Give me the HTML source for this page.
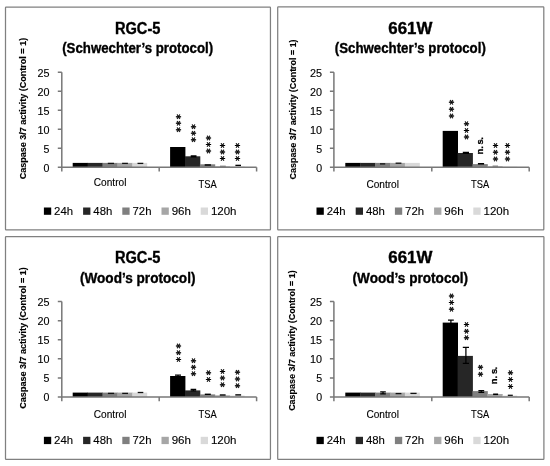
<!DOCTYPE html>
<html lang="en">
<head>
<meta charset="utf-8">
<title>Caspase 3/7 activity</title>
<style>
html,body{margin:0;padding:0;background:#fff;}
svg{display:block;font-family:"Liberation Sans", Arial, sans-serif;}
</style>
</head>
<body>
<svg width="550" height="466" viewBox="0 0 550 466">
<rect width="550" height="466" fill="#ffffff"/>
<rect x="5.5" y="7.1" width="264.95" height="222.70" rx="0.6" fill="#fff" stroke="#808080" stroke-width="1.25"/>
<text x="137.7" y="33.8" font-size="15.6" text-anchor="middle" fill="#000" font-weight="bold" textLength="45.5" lengthAdjust="spacingAndGlyphs" stroke="#000" stroke-width="0.35">RGC-5</text>
<text x="137.7" y="53.4" font-size="14.2" text-anchor="middle" fill="#000" font-weight="bold" textLength="151" lengthAdjust="spacingAndGlyphs" stroke="#000" stroke-width="0.35">(Schwechter’s protocol)</text>
<text x="26.2" y="108.6" font-size="9.5" text-anchor="middle" fill="#000" font-weight="bold" textLength="141.5" lengthAdjust="spacingAndGlyphs" transform="rotate(-90 26.2 108.6)" stroke="#000" stroke-width="0.15">Caspase 3/7 activity (Control = 1)</text>
<rect x="72.70" y="162.90" width="15.3" height="4.30" fill="#000000"/>
<rect x="87.60" y="162.90" width="15.3" height="4.30" fill="#262626"/>
<rect x="102.50" y="162.90" width="15.3" height="4.30" fill="#7f7f7f"/>
<rect x="117.40" y="162.90" width="15.3" height="4.30" fill="#a6a6a6"/>
<rect x="132.30" y="162.90" width="14.9" height="4.30" fill="#d9d9d9"/>
<rect x="170.10" y="147.00" width="15.3" height="20.20" fill="#000000"/>
<rect x="185.00" y="156.30" width="15.3" height="10.90" fill="#262626"/>
<rect x="199.90" y="164.30" width="15.3" height="2.90" fill="#7f7f7f"/>
<rect x="214.80" y="166.30" width="15.3" height="0.90" fill="#a6a6a6"/>
<rect x="229.70" y="166.40" width="14.9" height="0.80" fill="#d9d9d9"/>
<path d="M107.80 163.4h6.2" stroke="#111" stroke-width="1.3" fill="none"/>
<path d="M122.10 163.4h5.8" stroke="#111" stroke-width="1.3" fill="none"/>
<path d="M137.50 163.4h5.8" stroke="#111" stroke-width="1.3" fill="none"/>
<path d="M204.70 165h6.2" stroke="#000" stroke-width="1.5" fill="none"/>
<path d="M220.00 166.2h5.8" stroke="#666" stroke-width="1.0" fill="none"/>
<path d="M235.40 165.4h5.6" stroke="#000" stroke-width="1.4" fill="none"/>
<path d="M193.6 155.9V156.8M190.70 155.9h5.8M190.70 156.8h5.8" stroke="#000" stroke-width="1.25" fill="none"/>
<path d="M61.8 72.3V171.39999999999998M57.8 167.20H61.8M57.8 148.22H61.8M57.8 129.24H61.8M57.8 110.26H61.8M57.8 91.28H61.8M57.8 72.30H61.8M57.8 167.2H256.6M159.2 167.2v4.2M256.6 167.2v4.2" stroke="#787878" stroke-width="1.5" fill="none"/>
<text x="49.5" y="171.7" font-size="10.4" text-anchor="end" fill="#000" textLength="5.9" lengthAdjust="spacingAndGlyphs" stroke="#000" stroke-width="0.12">0</text>
<text x="49.5" y="152.72" font-size="10.4" text-anchor="end" fill="#000" textLength="5.9" lengthAdjust="spacingAndGlyphs" stroke="#000" stroke-width="0.12">5</text>
<text x="49.5" y="133.74" font-size="10.4" text-anchor="end" fill="#000" textLength="12.0" lengthAdjust="spacingAndGlyphs" stroke="#000" stroke-width="0.12">10</text>
<text x="49.5" y="114.76" font-size="10.4" text-anchor="end" fill="#000" textLength="12.0" lengthAdjust="spacingAndGlyphs" stroke="#000" stroke-width="0.12">15</text>
<text x="49.5" y="95.78" font-size="10.4" text-anchor="end" fill="#000" textLength="12.0" lengthAdjust="spacingAndGlyphs" stroke="#000" stroke-width="0.12">20</text>
<text x="49.5" y="76.8" font-size="10.4" text-anchor="end" fill="#000" textLength="12.0" lengthAdjust="spacingAndGlyphs" stroke="#000" stroke-width="0.12">25</text>
<text x="110.1" y="185.7" font-size="10.4" text-anchor="middle" fill="#000" textLength="32.6" lengthAdjust="spacingAndGlyphs" stroke="#000" stroke-width="0.12">Control</text>
<text x="207.6" y="187.6" font-size="10.4" text-anchor="middle" fill="#000" textLength="18.2" lengthAdjust="spacingAndGlyphs" stroke="#000" stroke-width="0.12">TSA</text>
<rect x="43.90" y="207.5" width="7.3" height="7.3" fill="#000000"/>
<text x="54.1" y="214.8" font-size="11.8" text-anchor="start" fill="#000" textLength="19.0" lengthAdjust="spacingAndGlyphs" stroke="#000" stroke-width="0.12">24h</text>
<rect x="83.10" y="207.5" width="7.3" height="7.3" fill="#262626"/>
<text x="93.3" y="214.8" font-size="11.8" text-anchor="start" fill="#000" textLength="19.0" lengthAdjust="spacingAndGlyphs" stroke="#000" stroke-width="0.12">48h</text>
<rect x="122.30" y="207.5" width="7.3" height="7.3" fill="#7f7f7f"/>
<text x="132.5" y="214.8" font-size="11.8" text-anchor="start" fill="#000" textLength="19.0" lengthAdjust="spacingAndGlyphs" stroke="#000" stroke-width="0.12">72h</text>
<rect x="161.50" y="207.5" width="7.3" height="7.3" fill="#a6a6a6"/>
<text x="171.7" y="214.8" font-size="11.8" text-anchor="start" fill="#000" textLength="19.3" lengthAdjust="spacingAndGlyphs" stroke="#000" stroke-width="0.12">96h</text>
<rect x="200.70" y="207.5" width="7.3" height="7.3" fill="#d9d9d9"/>
<text x="210.9" y="214.8" font-size="11.8" text-anchor="start" fill="#000" textLength="25.6" lengthAdjust="spacingAndGlyphs" stroke="#000" stroke-width="0.12">120h</text>
<text x="184.31" y="132.20" font-family="DejaVu Sans, Liberation Sans, sans-serif" font-weight="bold" font-size="9.6" letter-spacing="1.48" stroke="#000" stroke-width="0.3" transform="rotate(-90 184.31 132.20)">***</text>
<text x="199.01" y="142.20" font-family="DejaVu Sans, Liberation Sans, sans-serif" font-weight="bold" font-size="9.6" letter-spacing="1.48" stroke="#000" stroke-width="0.3" transform="rotate(-90 199.01 142.20)">***</text>
<text x="213.71" y="153.60" font-family="DejaVu Sans, Liberation Sans, sans-serif" font-weight="bold" font-size="9.6" letter-spacing="1.58" stroke="#000" stroke-width="0.3" transform="rotate(-90 213.71 153.60)">***</text>
<text x="228.41" y="161.00" font-family="DejaVu Sans, Liberation Sans, sans-serif" font-weight="bold" font-size="9.6" letter-spacing="1.48" stroke="#000" stroke-width="0.3" transform="rotate(-90 228.41 161.00)">***</text>
<text x="243.01" y="161.00" font-family="DejaVu Sans, Liberation Sans, sans-serif" font-weight="bold" font-size="9.6" letter-spacing="1.48" stroke="#000" stroke-width="0.3" transform="rotate(-90 243.01 161.00)">***</text>
<rect x="277.7" y="6.9" width="266.10" height="222.90" rx="0.6" fill="#fff" stroke="#808080" stroke-width="1.25"/>
<text x="410.3" y="33.8" font-size="15.6" text-anchor="middle" fill="#000" font-weight="bold" textLength="44" lengthAdjust="spacingAndGlyphs" stroke="#000" stroke-width="0.35">661W</text>
<text x="410.3" y="53.4" font-size="14.2" text-anchor="middle" fill="#000" font-weight="bold" textLength="151" lengthAdjust="spacingAndGlyphs" stroke="#000" stroke-width="0.35">(Schwechter’s protocol)</text>
<text x="295.8" y="109.4" font-size="9.5" text-anchor="middle" fill="#000" font-weight="bold" textLength="140.0" lengthAdjust="spacingAndGlyphs" transform="rotate(-90 295.8 109.4)" stroke="#000" stroke-width="0.15">Caspase 3/7 activity (Control = 1)</text>
<rect x="345.30" y="162.90" width="15.3" height="4.30" fill="#000000"/>
<rect x="360.20" y="162.90" width="15.3" height="4.30" fill="#262626"/>
<rect x="375.10" y="162.90" width="15.3" height="4.30" fill="#7f7f7f"/>
<rect x="390.00" y="162.90" width="15.3" height="4.30" fill="#a6a6a6"/>
<rect x="404.90" y="162.90" width="14.9" height="4.30" fill="#d9d9d9"/>
<rect x="442.70" y="130.90" width="15.3" height="36.30" fill="#000000"/>
<rect x="457.60" y="153.00" width="15.3" height="14.20" fill="#262626"/>
<rect x="472.50" y="164.10" width="15.3" height="3.10" fill="#7f7f7f"/>
<rect x="487.40" y="166.30" width="15.3" height="0.90" fill="#a6a6a6"/>
<rect x="502.30" y="166.70" width="14.9" height="0.50" fill="#d9d9d9"/>
<path d="M380.00 163.9h5.2" stroke="#111" stroke-width="1.3" fill="none"/>
<path d="M395.60 163.2h5.8" stroke="#111" stroke-width="1.3" fill="none"/>
<path d="M477.90 163.8h6.2" stroke="#000" stroke-width="1.6" fill="none"/>
<path d="M492.60 166.1h5.4" stroke="#666" stroke-width="1.0" fill="none"/>
<path d="M465.9 152.4V153.4M462.80 152.4h6.2M462.80 153.4h6.2" stroke="#000" stroke-width="1.25" fill="none"/>
<path d="M333.90000000000003 72.3V171.39999999999998M329.90000000000003 167.20H333.90000000000003M329.90000000000003 148.22H333.90000000000003M329.90000000000003 129.24H333.90000000000003M329.90000000000003 110.26H333.90000000000003M329.90000000000003 91.28H333.90000000000003M329.90000000000003 72.30H333.90000000000003M329.90000000000003 167.2H529.2M431.80000000000007 167.2v4.2M529.2 167.2v4.2" stroke="#787878" stroke-width="1.5" fill="none"/>
<text x="322.1" y="171.7" font-size="10.4" text-anchor="end" fill="#000" textLength="5.9" lengthAdjust="spacingAndGlyphs" stroke="#000" stroke-width="0.12">0</text>
<text x="322.1" y="152.72" font-size="10.4" text-anchor="end" fill="#000" textLength="5.9" lengthAdjust="spacingAndGlyphs" stroke="#000" stroke-width="0.12">5</text>
<text x="322.1" y="133.74" font-size="10.4" text-anchor="end" fill="#000" textLength="12.0" lengthAdjust="spacingAndGlyphs" stroke="#000" stroke-width="0.12">10</text>
<text x="322.1" y="114.76" font-size="10.4" text-anchor="end" fill="#000" textLength="12.0" lengthAdjust="spacingAndGlyphs" stroke="#000" stroke-width="0.12">15</text>
<text x="322.1" y="95.78" font-size="10.4" text-anchor="end" fill="#000" textLength="12.0" lengthAdjust="spacingAndGlyphs" stroke="#000" stroke-width="0.12">20</text>
<text x="322.1" y="76.8" font-size="10.4" text-anchor="end" fill="#000" textLength="12.0" lengthAdjust="spacingAndGlyphs" stroke="#000" stroke-width="0.12">25</text>
<text x="382.7" y="187.6" font-size="10.4" text-anchor="middle" fill="#000" textLength="32.6" lengthAdjust="spacingAndGlyphs" stroke="#000" stroke-width="0.12">Control</text>
<text x="480.2" y="187.6" font-size="10.4" text-anchor="middle" fill="#000" textLength="18.2" lengthAdjust="spacingAndGlyphs" stroke="#000" stroke-width="0.12">TSA</text>
<rect x="316.50" y="207.5" width="7.3" height="7.3" fill="#000000"/>
<text x="326.7" y="214.8" font-size="11.8" text-anchor="start" fill="#000" textLength="19.0" lengthAdjust="spacingAndGlyphs" stroke="#000" stroke-width="0.12">24h</text>
<rect x="355.70" y="207.5" width="7.3" height="7.3" fill="#262626"/>
<text x="365.9" y="214.8" font-size="11.8" text-anchor="start" fill="#000" textLength="19.0" lengthAdjust="spacingAndGlyphs" stroke="#000" stroke-width="0.12">48h</text>
<rect x="394.90" y="207.5" width="7.3" height="7.3" fill="#7f7f7f"/>
<text x="405.1" y="214.8" font-size="11.8" text-anchor="start" fill="#000" textLength="19.0" lengthAdjust="spacingAndGlyphs" stroke="#000" stroke-width="0.12">72h</text>
<rect x="434.10" y="207.5" width="7.3" height="7.3" fill="#a6a6a6"/>
<text x="444.3" y="214.8" font-size="11.8" text-anchor="start" fill="#000" textLength="19.3" lengthAdjust="spacingAndGlyphs" stroke="#000" stroke-width="0.12">96h</text>
<rect x="473.30" y="207.5" width="7.3" height="7.3" fill="#d9d9d9"/>
<text x="483.5" y="214.8" font-size="11.8" text-anchor="start" fill="#000" textLength="25.6" lengthAdjust="spacingAndGlyphs" stroke="#000" stroke-width="0.12">120h</text>
<text x="456.91" y="118.60" font-family="DejaVu Sans, Liberation Sans, sans-serif" font-weight="bold" font-size="9.6" letter-spacing="1.88" stroke="#000" stroke-width="0.3" transform="rotate(-90 456.91 118.60)">***</text>
<text x="471.61" y="139.50" font-family="DejaVu Sans, Liberation Sans, sans-serif" font-weight="bold" font-size="9.6" letter-spacing="1.58" stroke="#000" stroke-width="0.3" transform="rotate(-90 471.61 139.50)">***</text>
<text transform="translate(483.0 153.9) rotate(-90)" x="-0.6 5.2 7.6 9.5 14.2" y="0" font-size="9.4" font-weight="bold" stroke="#000" stroke-width="0.25">n. s.</text>
<text x="500.61" y="161.60" font-family="DejaVu Sans, Liberation Sans, sans-serif" font-weight="bold" font-size="9.6" letter-spacing="1.73" stroke="#000" stroke-width="0.3" transform="rotate(-90 500.61 161.60)">***</text>
<text x="513.01" y="161.60" font-family="DejaVu Sans, Liberation Sans, sans-serif" font-weight="bold" font-size="9.6" letter-spacing="1.73" stroke="#000" stroke-width="0.3" transform="rotate(-90 513.01 161.60)">***</text>
<rect x="5.5" y="236.6" width="264.95" height="222.80" rx="0.6" fill="#fff" stroke="#808080" stroke-width="1.25"/>
<text x="137.7" y="263.1" font-size="15.6" text-anchor="middle" fill="#000" font-weight="bold" textLength="45.5" lengthAdjust="spacingAndGlyphs" stroke="#000" stroke-width="0.35">RGC-5</text>
<text x="137.7" y="282.7" font-size="14.2" text-anchor="middle" fill="#000" font-weight="bold" textLength="115.5" lengthAdjust="spacingAndGlyphs" stroke="#000" stroke-width="0.35">(Wood’s protocol)</text>
<text x="26.2" y="337.9" font-size="9.5" text-anchor="middle" fill="#000" font-weight="bold" textLength="141.5" lengthAdjust="spacingAndGlyphs" transform="rotate(-90 26.2 337.9)" stroke="#000" stroke-width="0.15">Caspase 3/7 activity (Control = 1)</text>
<rect x="72.70" y="392.60" width="15.3" height="4.40" fill="#000000"/>
<rect x="87.60" y="392.60" width="15.3" height="4.40" fill="#262626"/>
<rect x="102.50" y="392.60" width="15.3" height="4.40" fill="#7f7f7f"/>
<rect x="117.40" y="392.60" width="15.3" height="4.40" fill="#a6a6a6"/>
<rect x="132.30" y="392.60" width="14.9" height="4.40" fill="#d9d9d9"/>
<rect x="170.10" y="376.00" width="15.3" height="21.00" fill="#000000"/>
<rect x="185.00" y="390.40" width="15.3" height="6.60" fill="#262626"/>
<rect x="199.90" y="394.40" width="15.3" height="2.60" fill="#7f7f7f"/>
<rect x="214.80" y="395.30" width="15.3" height="1.70" fill="#a6a6a6"/>
<rect x="229.70" y="395.60" width="14.9" height="1.40" fill="#d9d9d9"/>
<path d="M107.90 393.4h6.2" stroke="#111" stroke-width="1.3" fill="none"/>
<path d="M122.20 393.4h5.8" stroke="#111" stroke-width="1.3" fill="none"/>
<path d="M137.70 392.5h5.6" stroke="#111" stroke-width="1.3" fill="none"/>
<path d="M204.80 394.3h6" stroke="#000" stroke-width="1.4" fill="none"/>
<path d="M219.80 395h5.8" stroke="#000" stroke-width="1.4" fill="none"/>
<path d="M235.30 394.9h5.8" stroke="#000" stroke-width="1.4" fill="none"/>
<path d="M178 375.0V376.6M175.00 375.0h6M175.00 376.6h6" stroke="#000" stroke-width="1.25" fill="none"/>
<path d="M193.4 389.4V390.8M190.60 389.4h5.6M190.60 390.8h5.6" stroke="#000" stroke-width="1.25" fill="none"/>
<path d="M61.8 301.6V401.2M57.8 397.00H61.8M57.8 377.92H61.8M57.8 358.84H61.8M57.8 339.76H61.8M57.8 320.68H61.8M57.8 301.60H61.8M57.8 397.0H256.6M159.2 397.0v4.2M256.6 397.0v4.2" stroke="#787878" stroke-width="1.5" fill="none"/>
<text x="49.5" y="401.1" font-size="10.4" text-anchor="end" fill="#000" textLength="5.9" lengthAdjust="spacingAndGlyphs" stroke="#000" stroke-width="0.12">0</text>
<text x="49.5" y="382.02" font-size="10.4" text-anchor="end" fill="#000" textLength="5.9" lengthAdjust="spacingAndGlyphs" stroke="#000" stroke-width="0.12">5</text>
<text x="49.5" y="362.94" font-size="10.4" text-anchor="end" fill="#000" textLength="12.0" lengthAdjust="spacingAndGlyphs" stroke="#000" stroke-width="0.12">10</text>
<text x="49.5" y="343.86" font-size="10.4" text-anchor="end" fill="#000" textLength="12.0" lengthAdjust="spacingAndGlyphs" stroke="#000" stroke-width="0.12">15</text>
<text x="49.5" y="324.78" font-size="10.4" text-anchor="end" fill="#000" textLength="12.0" lengthAdjust="spacingAndGlyphs" stroke="#000" stroke-width="0.12">20</text>
<text x="49.5" y="305.7" font-size="10.4" text-anchor="end" fill="#000" textLength="12.0" lengthAdjust="spacingAndGlyphs" stroke="#000" stroke-width="0.12">25</text>
<text x="110.1" y="417.7" font-size="10.4" text-anchor="middle" fill="#000" textLength="32.6" lengthAdjust="spacingAndGlyphs" stroke="#000" stroke-width="0.12">Control</text>
<text x="207.6" y="418.1" font-size="10.4" text-anchor="middle" fill="#000" textLength="18.2" lengthAdjust="spacingAndGlyphs" stroke="#000" stroke-width="0.12">TSA</text>
<rect x="43.90" y="436.8" width="7.3" height="7.3" fill="#000000"/>
<text x="54.1" y="444.1" font-size="11.8" text-anchor="start" fill="#000" textLength="19.0" lengthAdjust="spacingAndGlyphs" stroke="#000" stroke-width="0.12">24h</text>
<rect x="83.10" y="436.8" width="7.3" height="7.3" fill="#262626"/>
<text x="93.3" y="444.1" font-size="11.8" text-anchor="start" fill="#000" textLength="19.0" lengthAdjust="spacingAndGlyphs" stroke="#000" stroke-width="0.12">48h</text>
<rect x="122.30" y="436.8" width="7.3" height="7.3" fill="#7f7f7f"/>
<text x="132.5" y="444.1" font-size="11.8" text-anchor="start" fill="#000" textLength="19.0" lengthAdjust="spacingAndGlyphs" stroke="#000" stroke-width="0.12">72h</text>
<rect x="161.50" y="436.8" width="7.3" height="7.3" fill="#a6a6a6"/>
<text x="171.7" y="444.1" font-size="11.8" text-anchor="start" fill="#000" textLength="19.3" lengthAdjust="spacingAndGlyphs" stroke="#000" stroke-width="0.12">96h</text>
<rect x="200.70" y="436.8" width="7.3" height="7.3" fill="#d9d9d9"/>
<text x="210.9" y="444.1" font-size="11.8" text-anchor="start" fill="#000" textLength="25.6" lengthAdjust="spacingAndGlyphs" stroke="#000" stroke-width="0.12">120h</text>
<text x="184.31" y="361.90" font-family="DejaVu Sans, Liberation Sans, sans-serif" font-weight="bold" font-size="9.6" letter-spacing="1.63" stroke="#000" stroke-width="0.3" transform="rotate(-90 184.31 361.90)">***</text>
<text x="199.01" y="376.20" font-family="DejaVu Sans, Liberation Sans, sans-serif" font-weight="bold" font-size="9.6" letter-spacing="1.48" stroke="#000" stroke-width="0.3" transform="rotate(-90 199.01 376.20)">***</text>
<text x="213.71" y="382.10" font-family="DejaVu Sans, Liberation Sans, sans-serif" font-weight="bold" font-size="9.6" letter-spacing="1.88" stroke="#000" stroke-width="0.3" transform="rotate(-90 213.71 382.10)">**</text>
<text x="228.41" y="387.20" font-family="DejaVu Sans, Liberation Sans, sans-serif" font-weight="bold" font-size="9.6" letter-spacing="1.58" stroke="#000" stroke-width="0.3" transform="rotate(-90 228.41 387.20)">***</text>
<text x="243.01" y="388.30" font-family="DejaVu Sans, Liberation Sans, sans-serif" font-weight="bold" font-size="9.6" letter-spacing="1.73" stroke="#000" stroke-width="0.3" transform="rotate(-90 243.01 388.30)">***</text>
<rect x="277.7" y="236.6" width="266.20" height="222.70" rx="0.6" fill="#fff" stroke="#808080" stroke-width="1.25"/>
<text x="410.3" y="263.1" font-size="15.6" text-anchor="middle" fill="#000" font-weight="bold" textLength="44" lengthAdjust="spacingAndGlyphs" stroke="#000" stroke-width="0.35">661W</text>
<text x="410.3" y="282.7" font-size="14.2" text-anchor="middle" fill="#000" font-weight="bold" textLength="115.5" lengthAdjust="spacingAndGlyphs" stroke="#000" stroke-width="0.35">(Wood’s protocol)</text>
<text x="294.8" y="340.6" font-size="9.5" text-anchor="middle" fill="#000" font-weight="bold" textLength="140.5" lengthAdjust="spacingAndGlyphs" transform="rotate(-90 294.8 340.6)" stroke="#000" stroke-width="0.15">Caspase 3/7 activity (Control = 1)</text>
<rect x="345.30" y="392.60" width="15.3" height="4.40" fill="#000000"/>
<rect x="360.20" y="392.60" width="15.3" height="4.40" fill="#262626"/>
<rect x="375.10" y="392.60" width="15.3" height="4.40" fill="#7f7f7f"/>
<rect x="390.00" y="392.60" width="15.3" height="4.40" fill="#a6a6a6"/>
<rect x="404.90" y="392.60" width="14.9" height="4.40" fill="#d9d9d9"/>
<rect x="442.70" y="322.60" width="15.3" height="74.40" fill="#000000"/>
<rect x="457.60" y="355.90" width="15.3" height="41.10" fill="#262626"/>
<rect x="472.50" y="391.10" width="15.3" height="5.90" fill="#7f7f7f"/>
<rect x="487.40" y="394.00" width="15.3" height="3.00" fill="#a6a6a6"/>
<rect x="502.30" y="395.60" width="14.9" height="1.40" fill="#d9d9d9"/>
<path d="M395.60 393.6h5.8" stroke="#111" stroke-width="1.3" fill="none"/>
<path d="M410.40 393.4h6.2" stroke="#111" stroke-width="1.3" fill="none"/>
<path d="M493.10 394.3h5" stroke="#000" stroke-width="1.6" fill="none"/>
<path d="M507.80 395.3h5" stroke="#111" stroke-width="1.3" fill="none"/>
<path d="M450.9 320.0V323.5M448.00 320.0h5.8M448.00 323.5h5.8" stroke="#000" stroke-width="1.25" fill="none"/>
<path d="M465.9 347.4V363.4M462.80 347.4h6.2M462.80 363.4h6.2" stroke="#000" stroke-width="1.25" fill="none"/>
<path d="M481.3 390.7V392.3M478.40 390.7h5.8M478.40 392.3h5.8" stroke="#000" stroke-width="1.25" fill="none"/>
<path d="M383 391.8V393.9M380.20 391.8h5.6M380.20 393.9h5.6" stroke="#000" stroke-width="1.25" fill="none"/>
<path d="M333.90000000000003 301.6V401.2M329.90000000000003 397.00H333.90000000000003M329.90000000000003 377.92H333.90000000000003M329.90000000000003 358.84H333.90000000000003M329.90000000000003 339.76H333.90000000000003M329.90000000000003 320.68H333.90000000000003M329.90000000000003 301.60H333.90000000000003M329.90000000000003 397.0H529.2M431.80000000000007 397.0v4.2M529.2 397.0v4.2" stroke="#787878" stroke-width="1.5" fill="none"/>
<text x="322.1" y="401.1" font-size="10.4" text-anchor="end" fill="#000" textLength="5.9" lengthAdjust="spacingAndGlyphs" stroke="#000" stroke-width="0.12">0</text>
<text x="322.1" y="382.02" font-size="10.4" text-anchor="end" fill="#000" textLength="5.9" lengthAdjust="spacingAndGlyphs" stroke="#000" stroke-width="0.12">5</text>
<text x="322.1" y="362.94" font-size="10.4" text-anchor="end" fill="#000" textLength="12.0" lengthAdjust="spacingAndGlyphs" stroke="#000" stroke-width="0.12">10</text>
<text x="322.1" y="343.86" font-size="10.4" text-anchor="end" fill="#000" textLength="12.0" lengthAdjust="spacingAndGlyphs" stroke="#000" stroke-width="0.12">15</text>
<text x="322.1" y="324.78" font-size="10.4" text-anchor="end" fill="#000" textLength="12.0" lengthAdjust="spacingAndGlyphs" stroke="#000" stroke-width="0.12">20</text>
<text x="322.1" y="305.7" font-size="10.4" text-anchor="end" fill="#000" textLength="12.0" lengthAdjust="spacingAndGlyphs" stroke="#000" stroke-width="0.12">25</text>
<text x="382.7" y="417.7" font-size="10.4" text-anchor="middle" fill="#000" textLength="32.6" lengthAdjust="spacingAndGlyphs" stroke="#000" stroke-width="0.12">Control</text>
<text x="480.2" y="418.1" font-size="10.4" text-anchor="middle" fill="#000" textLength="18.2" lengthAdjust="spacingAndGlyphs" stroke="#000" stroke-width="0.12">TSA</text>
<rect x="316.50" y="436.8" width="7.3" height="7.3" fill="#000000"/>
<text x="326.7" y="444.1" font-size="11.8" text-anchor="start" fill="#000" textLength="19.0" lengthAdjust="spacingAndGlyphs" stroke="#000" stroke-width="0.12">24h</text>
<rect x="355.70" y="436.8" width="7.3" height="7.3" fill="#262626"/>
<text x="365.9" y="444.1" font-size="11.8" text-anchor="start" fill="#000" textLength="19.0" lengthAdjust="spacingAndGlyphs" stroke="#000" stroke-width="0.12">48h</text>
<rect x="394.90" y="436.8" width="7.3" height="7.3" fill="#7f7f7f"/>
<text x="405.1" y="444.1" font-size="11.8" text-anchor="start" fill="#000" textLength="19.0" lengthAdjust="spacingAndGlyphs" stroke="#000" stroke-width="0.12">72h</text>
<rect x="434.10" y="436.8" width="7.3" height="7.3" fill="#a6a6a6"/>
<text x="444.3" y="444.1" font-size="11.8" text-anchor="start" fill="#000" textLength="19.3" lengthAdjust="spacingAndGlyphs" stroke="#000" stroke-width="0.12">96h</text>
<rect x="473.30" y="436.8" width="7.3" height="7.3" fill="#d9d9d9"/>
<text x="483.5" y="444.1" font-size="11.8" text-anchor="start" fill="#000" textLength="25.6" lengthAdjust="spacingAndGlyphs" stroke="#000" stroke-width="0.12">120h</text>
<text x="457.01" y="311.70" font-family="DejaVu Sans, Liberation Sans, sans-serif" font-weight="bold" font-size="9.6" letter-spacing="1.63" stroke="#000" stroke-width="0.3" transform="rotate(-90 457.01 311.70)">***</text>
<text x="471.81" y="340.30" font-family="DejaVu Sans, Liberation Sans, sans-serif" font-weight="bold" font-size="9.6" letter-spacing="1.63" stroke="#000" stroke-width="0.3" transform="rotate(-90 471.81 340.30)">***</text>
<text x="486.31" y="376.70" font-family="DejaVu Sans, Liberation Sans, sans-serif" font-weight="bold" font-size="9.6" letter-spacing="1.88" stroke="#000" stroke-width="0.3" transform="rotate(-90 486.31 376.70)">**</text>
<text transform="translate(497.3 383.6) rotate(-90)" x="-0.6 5.2 7.6 9.5 14.2" y="0" font-size="9.4" font-weight="bold" stroke="#000" stroke-width="0.25">n. s.</text>
<text x="516.11" y="388.90" font-family="DejaVu Sans, Liberation Sans, sans-serif" font-weight="bold" font-size="9.6" letter-spacing="1.83" stroke="#000" stroke-width="0.3" transform="rotate(-90 516.11 388.90)">***</text>
</svg>
</body>
</html>
